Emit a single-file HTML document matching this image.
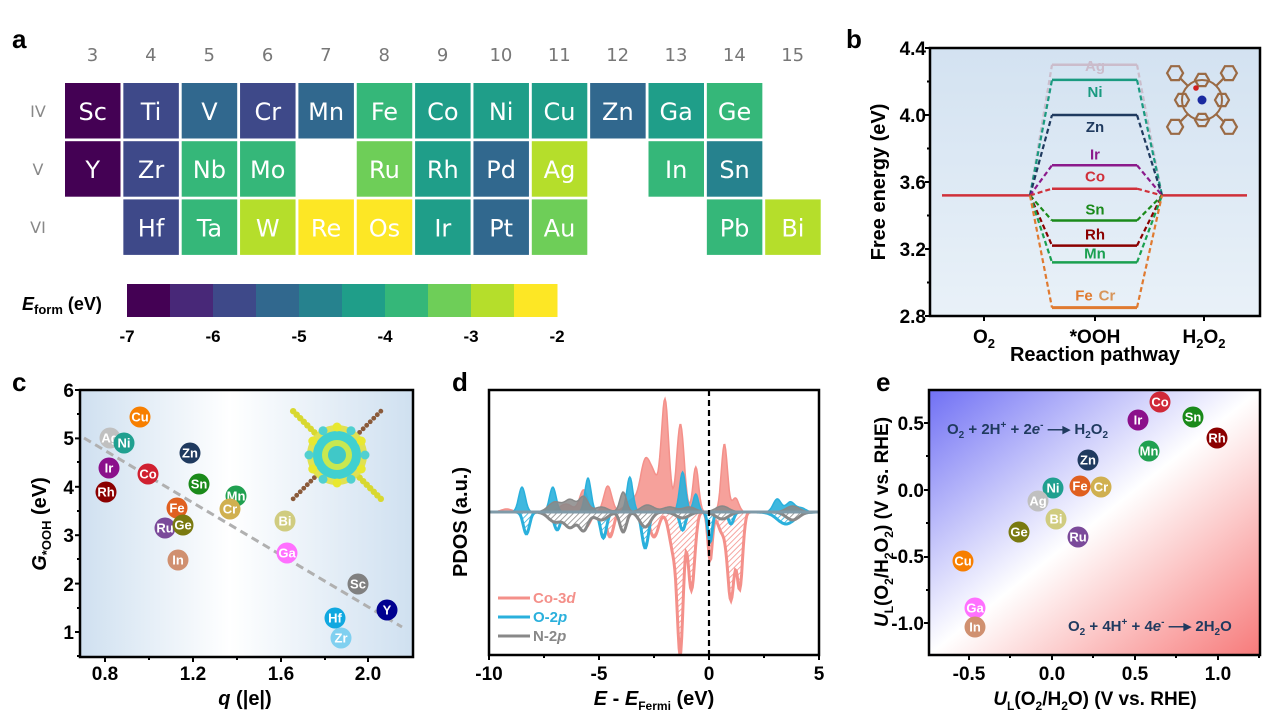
<!DOCTYPE html>
<html><head><meta charset="utf-8"><style>
body{margin:0;background:#fff;width:1276px;height:721px;overflow:hidden}
svg{display:block;font-family:"Liberation Sans",Arial,sans-serif}
.b{font-weight:bold}
</style></head><body>
<svg id="s" width="1276" height="721" viewBox="0 0 1276 721" xmlns="http://www.w3.org/2000/svg">
<defs>
<linearGradient id="gb" x1="0" y1="0" x2="0" y2="1"><stop offset="0" stop-color="#d3e2f1"/><stop offset="1" stop-color="#e9f1f8"/></linearGradient>
<linearGradient id="gc" x1="0" y1="0" x2="1" y2="0"><stop offset="0" stop-color="#cfe0f0"/><stop offset="0.45" stop-color="#ffffff"/><stop offset="1" stop-color="#cfe0f0"/></linearGradient>
<linearGradient id="ge" x1="0" y1="0" x2="1" y2="1"><stop offset="0" stop-color="#7070f4"/><stop offset="0.5" stop-color="#ffffff"/><stop offset="1" stop-color="#f77a7a"/></linearGradient>
<pattern id="hp" width="4" height="4" patternUnits="userSpaceOnUse" patternTransform="rotate(45)"><rect width="4" height="4" fill="#fff"/><line x1="0" y1="0" x2="0" y2="4" stroke="#f4908a" stroke-width="1.6"/></pattern>
<pattern id="hb" width="4" height="4" patternUnits="userSpaceOnUse" patternTransform="rotate(45)"><rect width="4" height="4" fill="#fff"/><line x1="0" y1="0" x2="0" y2="4" stroke="#2ab0dc" stroke-width="1.6"/></pattern>
<pattern id="hg" width="4" height="4" patternUnits="userSpaceOnUse" patternTransform="rotate(45)"><rect width="4" height="4" fill="#fff"/><line x1="0" y1="0" x2="0" y2="4" stroke="#888" stroke-width="1.6"/></pattern>
</defs>
<g id="g"></g>
<text x="12" y="48" font-size="26" class="b">a</text>
<text x="846" y="48" font-size="26" class="b">b</text>
<text x="12" y="391" font-size="26" class="b">c</text>
<text x="452" y="391" font-size="26" class="b">d</text>
<text x="876" y="391" font-size="26" class="b">e</text>

<text x="22" y="310" font-size="18" class="b"><tspan font-style="italic">E</tspan><tspan font-size="13" dy="4">form</tspan><tspan dy="-4"> (eV)</tspan></text>
<g font-size="17" class="b" text-anchor="middle">
<text x="127" y="342">-7</text><text x="213" y="342">-6</text><text x="299" y="342">-5</text><text x="385" y="342">-4</text><text x="471" y="342">-3</text><text x="557" y="342">-2</text>
</g>

<text transform="translate(885,182) rotate(-90)" font-size="20" class="b" text-anchor="middle">Free energy (eV)</text>
<g font-size="19" class="b" text-anchor="end">
<text x="926" y="55">4.4</text><text x="926" y="122">4.0</text><text x="926" y="189">3.6</text><text x="926" y="256">3.2</text><text x="926" y="323">2.8</text>
</g>
<g font-size="19" class="b" text-anchor="middle">
<text x="984" y="343">O<tspan font-size="13" dy="5">2</tspan></text>
<text x="1095" y="343">*OOH</text>
<text x="1204" y="343">H<tspan font-size="13" dy="5">2</tspan><tspan dy="-5">O</tspan><tspan font-size="13" dy="5">2</tspan></text>
<text x="1095" y="361" font-size="20">Reaction pathway</text>
</g>

<text transform="translate(46,524) rotate(-90)" font-size="20" class="b" text-anchor="middle"><tspan font-style="italic">G</tspan><tspan font-size="13" dy="5">*OOH</tspan><tspan dy="-5"> (eV)</tspan></text>
<g font-size="19" class="b" text-anchor="end">
<text x="74" y="397">6</text><text x="74" y="445">5</text><text x="74" y="494">4</text><text x="74" y="542">3</text><text x="74" y="591">2</text><text x="74" y="639">1</text>
</g>
<g font-size="19" class="b" text-anchor="middle">
<text x="105" y="680">0.8</text><text x="193" y="680">1.2</text><text x="281" y="680">1.6</text><text x="368" y="680">2.0</text>
<text x="245" y="705" font-size="20"><tspan font-style="italic">q</tspan> (|e|)</text>
</g>

<text transform="translate(467,522) rotate(-90)" font-size="20" class="b" text-anchor="middle">PDOS (a.u.)</text>
<g font-size="19" class="b" text-anchor="middle">
<text x="489" y="680">-10</text><text x="599" y="680">-5</text><text x="709" y="680">0</text><text x="819" y="680">5</text>
<text x="654" y="705" font-size="20"><tspan font-style="italic">E</tspan> - <tspan font-style="italic">E</tspan><tspan font-size="12" dy="5">Fermi</tspan><tspan dy="-5"> (eV)</tspan></text>
</g>
<g font-size="15" class="b">
<line x1="498" y1="598" x2="530" y2="598" stroke="#f4908a" stroke-width="3"/><text x="533" y="603" fill="#f4908a">Co-3<tspan font-style="italic">d</tspan></text>
<line x1="498" y1="617" x2="530" y2="617" stroke="#2ab0dc" stroke-width="3"/><text x="533" y="622" fill="#2ab0dc">O-2<tspan font-style="italic">p</tspan></text>
<line x1="498" y1="636" x2="530" y2="636" stroke="#888" stroke-width="3"/><text x="533" y="641" fill="#888">N-2<tspan font-style="italic">p</tspan></text>
</g>

<text transform="translate(888,522) rotate(-90)" font-size="19" class="b" text-anchor="middle"><tspan font-style="italic">U</tspan><tspan font-size="12" dy="5">L</tspan><tspan dy="-5">(O</tspan><tspan font-size="12" dy="5">2</tspan><tspan dy="-5">/H</tspan><tspan font-size="12" dy="5">2</tspan><tspan dy="-5">O</tspan><tspan font-size="12" dy="5">2</tspan><tspan dy="-5">) (V vs. RHE)</tspan></text>
<g font-size="19" class="b" text-anchor="end">
<text x="924" y="430">0.5</text><text x="924" y="497">0.0</text><text x="924" y="563">-0.5</text><text x="924" y="630">-1.0</text>
</g>
<g font-size="19" class="b" text-anchor="middle">
<text x="969" y="680">-0.5</text><text x="1052" y="680">0.0</text><text x="1135" y="680">0.5</text><text x="1218" y="680">1.0</text>
<text x="1095" y="705" font-size="19"><tspan font-style="italic">U</tspan><tspan font-size="12" dy="5">L</tspan><tspan dy="-5">(O</tspan><tspan font-size="12" dy="5">2</tspan><tspan dy="-5">/H</tspan><tspan font-size="12" dy="5">2</tspan><tspan dy="-5">O) (V vs. RHE)</tspan></text>
</g>
</svg>
<script>
var G=document.getElementById('g'),NS='http://www.w3.org/2000/svg';
function el(t,a,txt,par){var e=document.createElementNS(NS,t);for(var k in a)e.setAttribute(k,a[k]);if(txt!=null)e.textContent=txt;(par||G).appendChild(e);return e;}
var V=['#440154','#482878','#3e4989','#31688e','#26828e','#1f9e89','#35b779','#6ece58','#b5de2b','#fde725'];
for(var i=0;i<10;i++)el('rect',{x:127+i*43,y:284,width:43.5,height:33,fill:V[i]});
var colX=function(g){return 65+(g-3)*58.35;};
for(var g=3;g<=15;g++)el('text',{x:colX(g)+27.5,y:61,'font-size':18,'text-anchor':'middle',fill:'#777','font-family':'DejaVu Sans,sans-serif'},g);
['IV','V','VI'].forEach(function(r,i){el('text',{x:38,y:117+i*58,'font-size':16,'text-anchor':'middle',fill:'#888','font-family':'DejaVu Sans,sans-serif'},r);});
var cells=[[3,0,'Sc',0],[4,0,'Ti',2],[5,0,'V',3],[6,0,'Cr',2],[7,0,'Mn',3],[8,0,'Fe',6],[9,0,'Co',5],[10,0,'Ni',5],[11,0,'Cu',5],[12,0,'Zn',3],[13,0,'Ga',5],[14,0,'Ge',6],
[3,1,'Y',0],[4,1,'Zr',2],[5,1,'Nb',6],[6,1,'Mo',6],[8,1,'Ru',7],[9,1,'Rh',5],[10,1,'Pd',3],[11,1,'Ag',8],[13,1,'In',6],[14,1,'Sn',4],
[4,2,'Hf',2],[5,2,'Ta',6],[6,2,'W',8],[7,2,'Re',9],[8,2,'Os',9],[9,2,'Ir',5],[10,2,'Pt',3],[11,2,'Au',7],[14,2,'Pb',6],[15,2,'Bi',8]];
cells.forEach(function(c){var x=colX(c[0]),y=83+c[1]*58.2;el('rect',{x:x,y:y,width:55.5,height:55.5,fill:V[c[3]]});
el('text',{x:x+27.7,y:y+37,'font-size':24,'text-anchor':'middle',fill:'#fff','font-family':'DejaVu Sans,sans-serif'},c[2]);});
function frame(x1,y1,x2,y2){el('rect',{x:x1,y:y1,width:x2-x1,height:y2-y1,fill:'none',stroke:'#000','stroke-width':2.5});}
function tick(x,y,dx,dy){el('line',{x1:x,y1:y,x2:x+dx,y2:y+dy,stroke:'#000','stroke-width':2});}
// panel b
el('rect',{x:930,y:48,width:330,height:268,fill:'url(#gb)'});
var yb=function(v){return 48+(4.4-v)*167.5;};
el('line',{x1:942,y1:yb(3.52),x2:1030,y2:yb(3.52),stroke:'#d0303a','stroke-width':2.5});
el('line',{x1:1162,y1:yb(3.52),x2:1247,y2:yb(3.52),stroke:'#d0303a','stroke-width':2.5});
var lv=[['Ag',4.30,'#cbbccb',6],['Ni',4.21,'#1a9a80',17],['Zn',4.00,'#1f3a5f',17],['Ir',3.70,'#8b1a8b',-6],['Co',3.56,'#d0303a',-7],['Sn',3.37,'#1a8a1a',-6],['Rh',3.22,'#8b0000',-6],['Mn',3.12,'#1aa050',-4]];
lv.forEach(function(l){var y=yb(l[1]);
el('path',{d:'M1030 '+yb(3.52)+' L1052 '+y+' M1137 '+y+' L1162 '+yb(3.52),stroke:l[2],'stroke-width':2.2,'stroke-dasharray':'5 3',fill:'none'});
el('line',{x1:1052,y1:y,x2:1137,y2:y,stroke:l[2],'stroke-width':2.5});
el('text',{x:1095,y:y+l[3],'font-size':15,'font-weight':'bold','text-anchor':'middle',fill:l[2]},l[0]);});
var yf=yb(2.85);
el('path',{d:'M1030 '+yb(3.52)+' L1052 '+yf+' M1137 '+yf+' L1162 '+yb(3.52),stroke:'#e07a30','stroke-width':2.2,'stroke-dasharray':'5 3',fill:'none'});
el('line',{x1:1052,y1:yf,x2:1137,y2:yf,stroke:'#e07a30','stroke-width':3});
el('text',{x:1084,y:yf-7,'font-size':15,'font-weight':'bold','text-anchor':'middle',fill:'#e07a30'},'Fe');
el('text',{x:1107,y:yf-7,'font-size':15,'font-weight':'bold','text-anchor':'middle',fill:'#d8955a'},'Cr');
(function(){var cx=1202,cy=100;
function hexr(x,y,r){var d='';for(var k=0;k<6;k++){var a=k*Math.PI/3;d+=(k?'L':'M')+(x+r*Math.cos(a)).toFixed(1)+' '+(y+r*Math.sin(a)).toFixed(1);}el('path',{d:d+'Z',fill:'none',stroke:'#9a6a44','stroke-width':2.2});}
for(var a=0;a<4;a++){var an=a*Math.PI/2+Math.PI/4;hexr(cx+38*Math.cos(an),cy+38*Math.sin(an),8);
el('line',{x1:cx+20*Math.cos(an),y1:cy+20*Math.sin(an),x2:cx+30*Math.cos(an),y2:cy+30*Math.sin(an),stroke:'#9a6a44','stroke-width':2.2});}
for(var a=0;a<4;a++){var an=a*Math.PI/2;hexr(cx+20*Math.cos(an),cy+20*Math.sin(an),7);}
el('circle',{cx:cx,cy:cy,r:20,fill:'none',stroke:'#9a6a44','stroke-width':2});
el('circle',{cx:cx,cy:cy,r:4.5,fill:'#1a2aa0'});el('circle',{cx:cx-6,cy:cy-12,r:2.8,fill:'#d02020'});})();
frame(930,48,1260,316);
[48,115,182,249,316].forEach(function(y){tick(930,y,-5,0);});[81.5,148.5,215.5,282.5].forEach(function(y){tick(930,y,-3,0);});
[984,1095,1204].forEach(function(x){tick(x,316,0,5);});
// panel c
el('rect',{x:80,y:390,width:333,height:267,fill:'url(#gc)'});
el('line',{x1:84,y1:438,x2:402,y2:627,stroke:'#b0b0b0','stroke-width':3,'stroke-dasharray':'8 5'});
(function(){var cx=337,cy=455;
for(var a=0;a<4;a++){var an=a*Math.PI/2+Math.PI/4;for(var r=32;r<=62;r+=5){el('circle',{cx:cx+r*Math.cos(an),cy:cy+r*Math.sin(an),r:(a%2?2.4:3.2),fill:(a%2?'#8a5a3a':'#d8d830')});}}
el('circle',{cx:cx,cy:cy,r:30,fill:'#e0e040',opacity:0.9});
el('circle',{cx:cx,cy:cy,r:24,fill:'#40d0d0'});el('circle',{cx:cx,cy:cy,r:15,fill:'#c8e850'});el('circle',{cx:cx,cy:cy,r:9,fill:'#40c8c8'});
for(var k=0;k<12;k++){var an=k*Math.PI/6;el('circle',{cx:cx+28*Math.cos(an),cy:cy+28*Math.sin(an),r:4.5,fill:(k%2?'#e8e830':'#50d0d0')});}})();
var pc=[['Cu',140,417,'#f77f00'],['Ag',110,438,'#c0c0c0'],['Ni',124,443,'#20a090'],['Ir',109,468,'#8b108b'],['Rh',106,492,'#8b0000'],['Co',148,474,'#d02030'],['Zn',190,453,'#1f3a5f'],['Sn',199,484,'#1a8a1a'],['Mn',236,496,'#20a050'],['Cr',230,509,'#d0b050'],['Fe',177,508,'#e06020'],['Ru',165,528,'#7b4a9a'],['Ge',183,525,'#7a7a10'],['In',178,560,'#d09070'],['Bi',285,521,'#d0cc80'],['Ga',287,553,'#ff70ff'],['Sc',358,584,'#808080'],['Y',387,610,'#000090'],['Hf',335,618,'#10a8e0'],['Zr',341,638,'#80d0f0']];
function dots(arr){arr.forEach(function(p){el('circle',{cx:p[1],cy:p[2],r:10.5,fill:p[3]});el('text',{x:p[1],y:p[2]+4.5,'font-size':13,'font-weight':'bold','text-anchor':'middle',fill:'#fff'},p[0]);});}
dots(pc);
frame(80,390,413,657);
[390,438.4,486.8,535.2,583.6,632].forEach(function(y){tick(80,y,-5,0);});[414,462,511,559,608,656].forEach(function(y){tick(80,y,-3,0);});
[105,193,281,368].forEach(function(x){tick(x,657,0,5);});[149,237,325].forEach(function(x){tick(x,657,0,3);});
// panel d
var xd=function(e){return 709+e*22;},y0=512;
function curve(peaks,sgn){var d='M'+xd(-10)+' '+y0;for(var e=-10;e<=5.001;e+=0.04){var v=0;peaks.forEach(function(p){v+=p[1]*Math.exp(-Math.pow((e-p[0])/p[2],2)/2);});d+=' L'+xd(e).toFixed(1)+' '+(y0-sgn*v).toFixed(1);}return d+' L'+xd(5)+' '+y0+' Z';}
var coU=[[-9.2,3,0.25],[-5.7,22,0.18],[-4.6,26,0.18],[-3.5,12,0.3],[-2.9,48,0.22],[-2.5,30,0.2],[-2.0,112,0.17],[-1.3,88,0.17],[-0.6,45,0.13],[0.7,68,0.14],[1.2,14,0.15],[-6.5,8,0.3]];
var coD=[[-5.6,15,0.2],[-4.5,25,0.16],[-2.5,25,0.2],[-1.3,130,0.13],[-0.8,78,0.15],[-1.6,40,0.2],[0.05,48,0.1],[1.0,85,0.15],[1.4,75,0.13],[0.6,20,0.2]];
var oU=[[-8.5,25,0.15],[-7.1,25,0.15],[-5.5,34,0.14],[-3.6,35,0.14],[-1.2,40,0.14],[-0.6,18,0.12],[3.1,13,0.18],[3.7,10,0.2],[4.2,4,0.2]];
var oD=[[-8.3,22,0.14],[-6.9,18,0.15],[-4.8,26,0.14],[-2.9,36,0.15],[-1.2,18,0.13],[0.05,30,0.1],[1.0,12,0.12],[3.5,12,0.4]];
var nU=[[-7.0,10,0.3],[-6.3,12,0.25],[-5.7,15,0.2],[-4.9,5,0.3],[-3.9,20,0.15],[-2.8,7,0.3],[-1.8,5,0.3],[-0.9,5,0.3],[0.6,6,0.3],[3.8,6,0.3]];
var nD=[[-7.0,10,0.3],[-6.3,15,0.25],[-5.7,18,0.2],[-4.9,8,0.3],[-3.9,20,0.15],[-2.9,15,0.25],[-1.2,6,0.3],[0.6,7,0.3],[3.8,8,0.3]];
el('path',{d:curve(coU,1),fill:'#f4908a','fill-opacity':0.85,stroke:'#f4908a','stroke-width':1.5});
el('path',{d:curve(coD,-1),fill:'url(#hp)',stroke:'#f4908a','stroke-width':3});
el('path',{d:curve(oU,1),fill:'#2ab0dc','fill-opacity':0.9,stroke:'#2ab0dc','stroke-width':1.5});
el('path',{d:curve(oD,-1),fill:'url(#hb)',stroke:'#2ab0dc','stroke-width':3});
el('path',{d:curve(nU,1),fill:'#888','fill-opacity':0.85,stroke:'#888','stroke-width':1.5});
el('path',{d:curve(nD,-1),fill:'url(#hg)',stroke:'#888','stroke-width':3});
el('line',{x1:489,y1:y0,x2:819,y2:y0,stroke:'#7f9aa8','stroke-width':3});
el('line',{x1:709,y1:390,x2:709,y2:655,stroke:'#000','stroke-width':2.2,'stroke-dasharray':'6 4'});
frame(489,390,819,655);
[489,599,709,819].forEach(function(x){tick(x,655,0,5);});[544,654,764].forEach(function(x){tick(x,655,0,3);});
// panel e
el('rect',{x:929,y:390,width:331,height:265,fill:'url(#ge)'});
var pe=[['Co',1160,402,'#d02838'],['Ir',1138,420,'#8b108b'],['Sn',1193,417,'#1a8a1a'],['Rh',1217,438,'#8b0000'],['Mn',1149,451,'#20a050'],['Zn',1088,460,'#1f3a5f'],['Ni',1053,488,'#20a090'],['Fe',1080,486,'#e06020'],['Cr',1101,487,'#d0b050'],['Ag',1038,501,'#c0c0c0'],['Bi',1056,519,'#d0cc80'],['Ge',1019,532,'#7a7a10'],['Ru',1078,537,'#7b4a9a'],['Cu',963,561,'#f77f00'],['Ga',975,608,'#ff70ff'],['In',975,627,'#d09070']];
dots(pe);
function eq(x,y,parts){var t=el('text',{x:x,y:y,'font-size':15,'font-weight':'bold',fill:'#1f3a5f'});parts.forEach(function(p){el('tspan',p[1]||{},p[0],t);});return t;}
eq(947,434,[['O'],['2',{'font-size':10,dy:4}],[' + 2H',{dy:-4}],['+',{'font-size':10,dy:-6}],[' + 2',{dy:6}],['e',{'font-style':'italic'}],['-',{'font-size':10,dy:-6}],[' \u2014\u25B8 ',{dy:6}],['H'],['2',{'font-size':10,dy:4}],['O',{dy:-4}],['2',{'font-size':10,dy:4}]]);
eq(1068,631,[['O'],['2',{'font-size':10,dy:4}],[' + 4H',{dy:-4}],['+',{'font-size':10,dy:-6}],[' + 4',{dy:6}],['e',{'font-style':'italic'}],['-',{'font-size':10,dy:-6}],[' \u2014\u25B8 ',{dy:6}],['2H'],['2',{'font-size':10,dy:4}],['O',{dy:-4}]]);
frame(929,390,1260,655);
[423,490,557,623].forEach(function(y){tick(929,y,-5,0);});[456,523,590].forEach(function(y){tick(929,y,-3,0);});
[969,1052,1135,1218].forEach(function(x){tick(x,655,0,5);});[1010,1093,1176,1259].forEach(function(x){tick(x,655,0,3);});
</script>
</body></html>
